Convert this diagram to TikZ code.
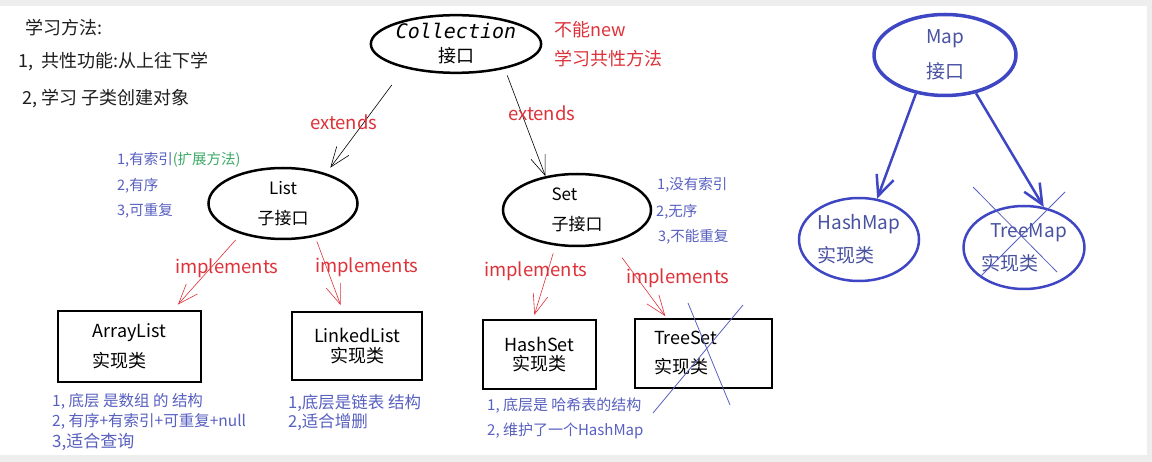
\documentclass[tikz,border=0pt]{standalone}
\usepackage{fontspec}
\setmainfont{Noto Sans CJK SC}
\newfontfamily\codefont{DejaVu Sans Mono}
\usetikzlibrary{arrows.meta,shapes.geometric,positioning}
\definecolor{headblack}{RGB}{30,30,30}
\definecolor{noteblue}{RGB}{88,96,192}
\definecolor{maptext}{RGB}{72,82,160}
\definecolor{mapblue}{RGB}{62,70,196}
\definecolor{notered}{RGB}{222,50,58}
\definecolor{notegreen}{RGB}{62,172,104}
\definecolor{framegray}{RGB}{238,238,238}

\begin{document}
\begin{tikzpicture}[x=1pt,y=-1pt,
  iface/.style={ellipse,draw,line width=2.5pt,inner sep=0pt,align=center,
    font=\fontsize{17}{30}\selectfont},
  impl/.style={rectangle,draw,line width=2.5pt,inner sep=0pt,align=center,
    font=\fontsize{18}{30}\selectfont},
  mapnode/.style={ellipse,draw=mapblue,text=maptext,line width=2.5pt,inner sep=0pt,
    align=left,font=\fontsize{19}{33}\selectfont},
  head/.style={anchor=west,inner sep=0pt,text=headblack,font=\fontsize{18}{20}\selectfont},
  rednote/.style={anchor=west,inner sep=0pt,text=notered,font=\fontsize{18}{20}\selectfont},
  redlabel/.style={rednote,font=\fontsize{18.5}{20}\selectfont},
  note/.style={anchor=west,inner sep=0pt,text=noteblue,font=\fontsize{14.5}{17}\selectfont},
  extends/.style={-{Straight Barb[length=20pt,width=15pt]},line width=0.6pt},
  implarrow/.style={-{Straight Barb[length=20pt,width=15pt]},notered,line width=0.6pt},
  maparrow/.style={-{Straight Barb[length=20pt,width=18pt]},mapblue,line width=2.5pt},
  cross/.style={noteblue,line width=0.8pt}]
  \useasboundingbox (0,0) rectangle (1152,462);
  %frame
  \fill[framegray] (0,0) rectangle (1152,462);
  \fill[white] (0,6) rectangle (1147,455);

  %how to learn
  \node[head] (learn) at (25,28) {学习方法:};
  \node[head] (learn1) at (18,62) {1,\ \ 共性功能:从上往下学};
  \node[head] (learn2) at (22,99) {2, 学习 子类创建对象};

  %collection interface
  \node[iface,minimum width=153pt,minimum height=57pt,font=\fontsize{18}{24}\selectfont]
    (coll) at (456,44) {{\codefont\itshape\fontsize{20}{24}\selectfont Collection}\\接口};
  \node[rednote] (nonew) at (554,30) {不能new};
  \node[rednote] (common) at (554,59) {学习共性方法};

  %sub interfaces
  \node[iface,minimum width=149pt,minimum height=71pt] (list) at (283,203.5) {List\\子接口};
  \node[iface,minimum width=148pt,minimum height=72pt,align=left] (set) at (577,210) {Set\\子接口};
  \draw[extends,shorten <=21pt,shorten >=7pt] (coll.205) -- (list.35);
  \draw[extends,shorten <=7pt] (coll.333) -- (set.133);
  \node[redlabel] (ext1) at (310,122) {extends};
  \node[redlabel] (ext2) at (508,113) {extends};

  %list notes
  \node[note] (lnote1) at (117,160) {1,有索引{\color{notegreen}(扩展方法)}};
  \node[note] (lnote2) at (117,186) {2,有序};
  \node[note] (lnote3) at (117,211) {3,可重复};
  %set notes
  \node[note] (snote1) at (657,185) {1,没有索引};
  \node[note] (snote2) at (656,212) {2,无序};
  \node[note] (snote3) at (658,237) {3,不能重复};

  %implementing classes
  \node[impl,minimum width=143pt,minimum height=71pt,align=left] (alist) at (129.5,346.5)
    {ArrayList\\实现类};
  \node[impl,minimum width=130pt,minimum height=68pt,font=\fontsize{18}{20}\selectfont]
    (llist) at (357,346) {LinkedList\\实现类};
  \node[impl,minimum width=113pt,minimum height=69pt,font=\fontsize{18}{19}\selectfont]
    (hset) at (539.5,354.5) {HashSet\\实现类};
  \node[impl,minimum width=137pt,minimum height=69pt,text width=99pt,inner xsep=19pt,
    align=left,font=\fontsize{18}{29}\selectfont] (tset) at (703.5,353.5) {TreeSet\\实现类};
  \draw[implarrow,shorten <=8pt,shorten >=7pt] (list.216) -- (alist.40);
  \draw[implarrow,shorten <=5pt,shorten >=6pt] (list.314) -- (llist.112);
  \draw[implarrow,shorten <=8pt,shorten >=4pt] (set.239) -- (hset.100);
  \draw[implarrow,shorten <=18pt,shorten >=2pt] (set.316) -- (tset.136);
  \node[redlabel] (imp1) at (175,268) {implements};
  \node[redlabel] (imp2) at (315,267) {implements};
  \node[redlabel] (imp3) at (484,271) {implements};
  \node[redlabel] (imp4) at (626,278) {implements};
  %treeset crossed out
  \draw[cross] (688,303) -- (730,405);
  \draw[cross] (743,305) -- (653,413);

  %class notes
  \node[note,font=\fontsize{15.5}{17}\selectfont] (anote1) at (52,401) {1, 底层 是数组 的 结构};
  \node[note,font=\fontsize{15.5}{17}\selectfont] (anote2) at (52,421) {2, 有序+有索引+可重复+null};
  \node[note,font=\fontsize{17}{20}\selectfont] (anote3) at (52,442) {3,适合查询};
  \node[note,font=\fontsize{16.5}{20}\selectfont] (knote1) at (288,403) {1,底层是链表 结构};
  \node[note,font=\fontsize{16.5}{20}\selectfont] (knote2) at (288,422) {2,适合增删};
  \node[note,font=\fontsize{15}{17}\selectfont] (hnote1) at (487,406) {1, 底层是 哈希表的结构};
  \node[note,font=\fontsize{15}{17}\selectfont] (hnote2) at (487,431) {2, 维护了一个HashMap};

  %map interface
  \node[mapnode,line width=3.5pt,minimum width=142pt,minimum height=81pt,align=center,
    font=\fontsize{19}{35}\selectfont] (map) at (945,55) {Map\\接口};
  \node[mapnode,minimum width=120pt,minimum height=83pt] (hmap) at (859,239.5) {HashMap\\实现类};
  \node[mapnode,minimum width=120pt,minimum height=83pt] (tmap) at (1024,247.5)
    {\hspace*{9pt}TreeMap\\实现类};
  \draw[maparrow] (map.233) -- (hmap.66);
  \draw[maparrow] (map.309) -- (tmap.64);
  %treemap crossed out
  \draw[cross] (973,187) -- (1057,272);
  \draw[cross] (1065,192) -- (980,277);
\end{tikzpicture}
\end{document}
